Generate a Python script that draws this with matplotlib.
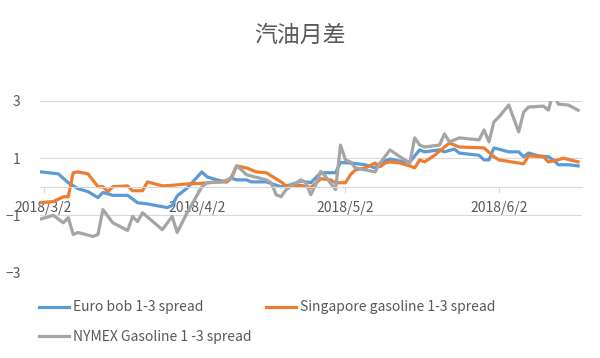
import pandas as pd
import numpy as np
import matplotlib.pyplot as plt
import matplotlib.dates as mdates

plt.rcParams['font.family'] = ['Noto Sans CJK SC', 'DejaVu Sans']

#Euro bob 1-3 spread
euro_dates = ['2018-03-01', '2018-03-05', '2018-03-07', '2018-03-09', '2018-03-11', '2018-03-13',
              '2018-03-14', '2018-03-16', '2018-03-19', '2018-03-21', '2018-03-23', '2018-03-27',
              '2018-03-28', '2018-03-29', '2018-03-31', '2018-04-03', '2018-04-04', '2018-04-06',
              '2018-04-08', '2018-04-09', '2018-04-10', '2018-04-12', '2018-04-13', '2018-04-16',
              '2018-04-19', '2018-04-21', '2018-04-23', '2018-04-25', '2018-04-27', '2018-04-30',
              '2018-05-01', '2018-05-03', '2018-05-06', '2018-05-08', '2018-05-09', '2018-05-11',
              '2018-05-13', '2018-05-15', '2018-05-17', '2018-05-18', '2018-05-21', '2018-05-22',
              '2018-05-24', '2018-05-25', '2018-05-29', '2018-05-30', '2018-05-31', '2018-06-01',
              '2018-06-04', '2018-06-06', '2018-06-07', '2018-06-08', '2018-06-10', '2018-06-12',
              '2018-06-13', '2018-06-14', '2018-06-16', '2018-06-18']
euro_vals = [0.53, 0.45, 0.14, -0.07, -0.17, -0.38,
             -0.2, -0.3, -0.3, -0.56, -0.6, -0.73,
             -0.65, -0.32, -0.05, 0.52, 0.35, 0.24,
             0.17, 0.3, 0.24, 0.24, 0.17, 0.17,
             0.0, 0.07, 0.2, 0.14, 0.49, 0.49,
             0.85, 0.83, 0.77, 0.66, 0.83, 0.97,
             0.9, 0.87, 1.29, 1.22, 1.29, 1.22,
             1.32, 1.18, 1.1, 0.94, 0.94, 1.36,
             1.22, 1.22, 1.05, 1.18, 1.08, 1.05,
             0.94, 0.77, 0.77, 0.73]

#Singapore gasoline 1-3 spread
sing_dates = ['2018-03-01', '2018-03-04', '2018-03-06', '2018-03-07', '2018-03-08', '2018-03-09',
              '2018-03-11', '2018-03-13', '2018-03-14', '2018-03-15', '2018-03-16', '2018-03-19',
              '2018-03-20', '2018-03-22', '2018-03-23', '2018-03-26', '2018-03-28', '2018-03-31',
              '2018-04-03', '2018-04-06', '2018-04-08', '2018-04-09', '2018-04-10', '2018-04-12',
              '2018-04-14', '2018-04-16', '2018-04-19', '2018-04-20', '2018-04-23', '2018-04-25',
              '2018-04-27', '2018-04-29', '2018-04-30', '2018-05-02', '2018-05-03', '2018-05-04',
              '2018-05-06', '2018-05-08', '2018-05-09', '2018-05-10', '2018-05-11', '2018-05-13',
              '2018-05-15', '2018-05-16', '2018-05-17', '2018-05-18', '2018-05-20', '2018-05-23',
              '2018-05-25', '2018-05-30', '2018-06-01', '2018-06-02', '2018-06-06', '2018-06-07',
              '2018-06-08', '2018-06-11', '2018-06-12', '2018-06-14', '2018-06-15', '2018-06-18']
sing_vals = [-0.56, -0.52, -0.35, -0.35, 0.49, 0.52,
             0.45, 0.0, 0.0, -0.17, 0.0, 0.03,
             -0.14, -0.14, 0.17, 0.03, 0.05, 0.1,
             0.12, 0.17, 0.17, 0.35, 0.73, 0.66,
             0.52, 0.49, 0.17, 0.03, 0.05, -0.03,
             0.28, 0.24, 0.14, 0.14, 0.42, 0.59,
             0.66, 0.83, 0.7, 0.83, 0.87, 0.83,
             0.73, 0.66, 0.94, 0.87, 1.1, 1.53,
             1.39, 1.36, 1.05, 0.94, 0.83, 0.8,
             1.08, 1.05, 0.87, 0.94, 1.0, 0.87]

#NYMEX Gasoline 1-3 spread
nymex_dates = ['2018-03-01', '2018-03-04', '2018-03-06', '2018-03-07', '2018-03-08', '2018-03-09',
               '2018-03-12', '2018-03-13', '2018-03-14', '2018-03-16', '2018-03-19', '2018-03-20',
               '2018-03-21', '2018-03-22', '2018-03-26', '2018-03-28', '2018-03-29', '2018-03-31',
               '2018-04-03', '2018-04-04', '2018-04-07', '2018-04-09', '2018-04-10', '2018-04-11',
               '2018-04-12', '2018-04-16', '2018-04-17', '2018-04-18', '2018-04-19', '2018-04-20',
               '2018-04-23', '2018-04-24', '2018-04-25', '2018-04-26', '2018-04-27', '2018-04-28',
               '2018-04-30', '2018-05-01', '2018-05-02', '2018-05-03', '2018-05-04', '2018-05-06',
               '2018-05-08', '2018-05-09', '2018-05-11', '2018-05-13', '2018-05-15', '2018-05-16',
               '2018-05-17', '2018-05-18', '2018-05-21', '2018-05-22', '2018-05-23', '2018-05-25',
               '2018-05-29', '2018-05-30', '2018-05-31', '2018-06-01', '2018-06-02', '2018-06-04',
               '2018-06-06', '2018-06-07', '2018-06-08', '2018-06-11', '2018-06-12', '2018-06-13',
               '2018-06-14', '2018-06-16', '2018-06-18']
nymex_vals = [-1.15, -1.0, -1.26, -1.08, -1.67, -1.6,
              -1.74, -1.67, -0.8, -1.26, -1.53, -1.04,
              -1.22, -0.91, -1.5, -1.04, -1.6, -0.91,
              0.0, 0.14, 0.17, 0.3, 0.73, 0.59,
              0.42, 0.24, 0.14, -0.28, -0.35, -0.1,
              0.24, 0.14, -0.28, 0.07, 0.54, 0.35,
              -0.1, 1.46, 0.94, 0.87, 0.66, 0.59,
              0.52, 0.83, 1.29, 1.05, 0.83, 1.71,
              1.46, 1.39, 1.46, 1.85, 1.57, 1.71,
              1.64, 1.99, 1.57, 2.27, 2.44, 2.86,
              1.92, 2.61, 2.79, 2.82, 2.68, 3.31,
              2.89, 2.86, 2.68]

tick_dates = ['2018-03-02', '2018-04-02', '2018-05-02', '2018-06-02']

#Plotting
fig = plt.figure(figsize=(6, 3.58), dpi=100)
ax = fig.add_axes([40/600, 1-272.5/358, 542/600, 171.5/358])

l1, = ax.plot(pd.to_datetime(euro_dates), euro_vals, color='#5B9BD5', lw=2.3, label='Euro bob 1-3 spread')
l2, = ax.plot(pd.to_datetime(sing_dates), sing_vals, color='#ED7D31', lw=2.3, label='Singapore gasoline 1-3 spread')
l3, = ax.plot(pd.to_datetime(nymex_dates), nymex_vals, color='#A5A5A5', lw=2.3, label='NYMEX Gasoline 1 -3 spread')

ax.set_ylim(-3, 3)
ax.set_yticks([-3, -1, 1, 3])
ax.set_xlim(pd.Timestamp('2018-03-01 07:00'), pd.Timestamp('2018-06-18 19:00'))
ax.set_xticks(pd.to_datetime(tick_dates))
ax.set_xticklabels([d.replace('-0', '/').replace('-', '/') for d in tick_dates])

ax.grid(axis='y', color='#D9D9D9', lw=0.8)
for s in ['top', 'right', 'left']:
    ax.spines[s].set_visible(False)
ax.spines['bottom'].set_position(('data', 0))
ax.spines['bottom'].set_color('#D9D9D9')
ax.tick_params(axis='y', length=0, pad=14, labelsize=10, labelcolor='#595959')
ax.tick_params(axis='x', length=4, color='#D9D9D9', pad=6, labelsize=10, labelcolor='#595959')

fig.text(0.5, 1-35/358, '汽油月差', ha='center', va='center', fontsize=16.5, color='#595959')

# legend filled by rows, like the original
leg = fig.legend([l1, l3, l2], [l1.get_label(), l3.get_label(), l2.get_label()],
                 loc='upper left', bbox_to_anchor=(26/600, 1-288/358), ncol=2, frameon=False,
                 fontsize=10, handlelength=2.2, handletextpad=0.3, columnspacing=1.0,
                 labelspacing=1.1, labelcolor='#595959')

fig.savefig('out.png')
